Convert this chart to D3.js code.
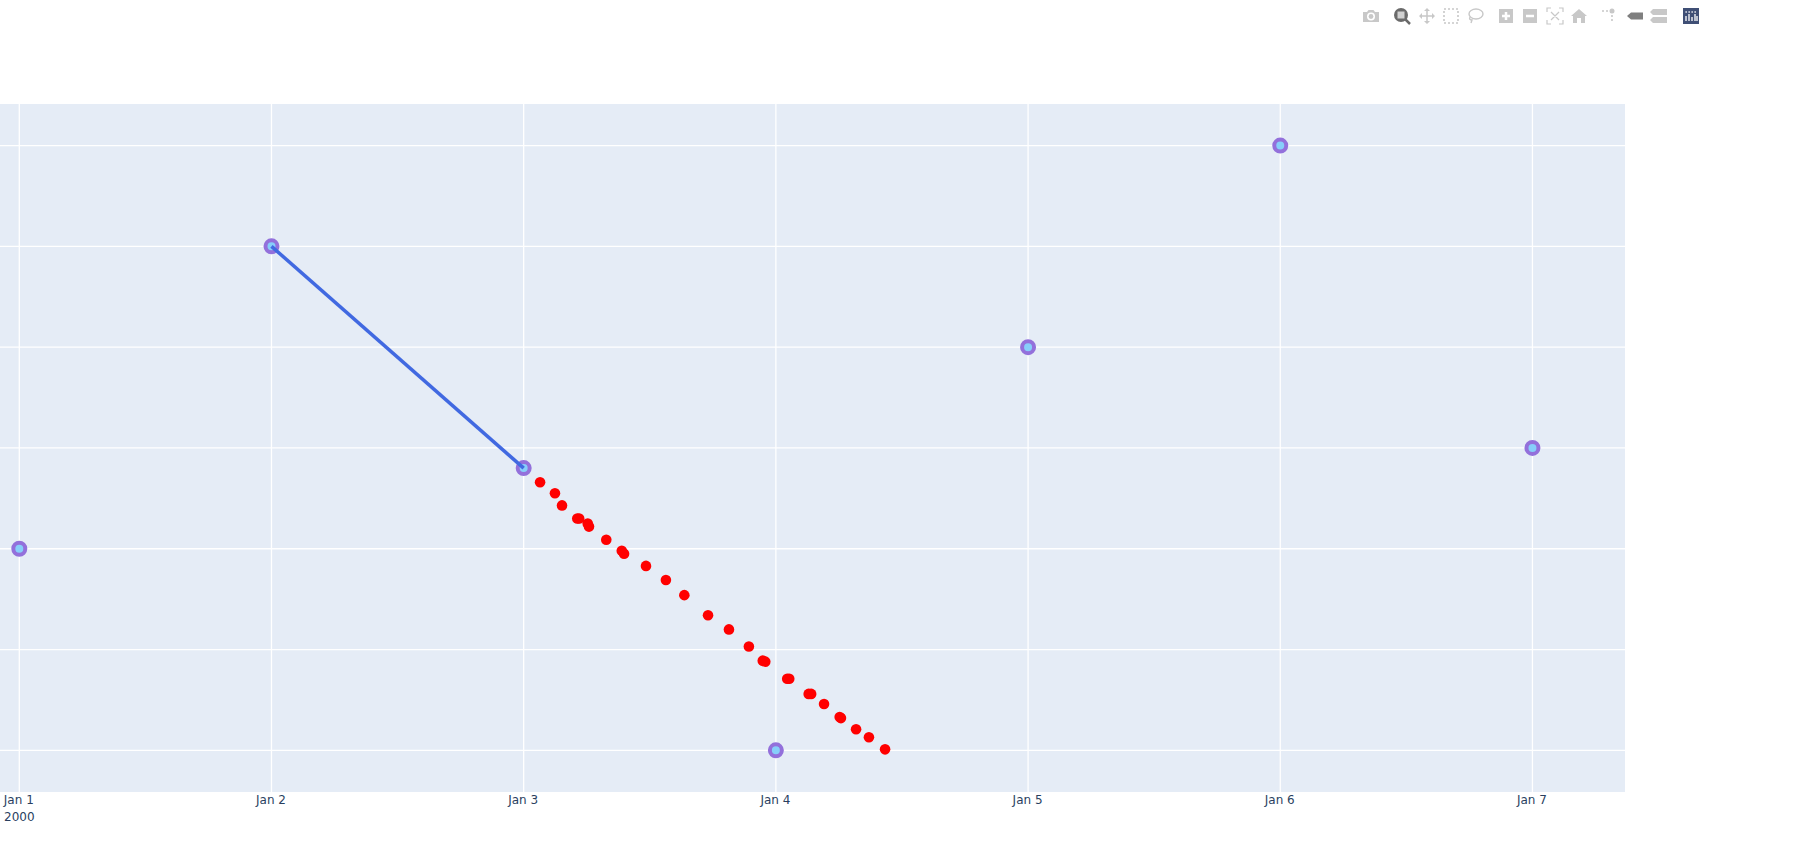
<!DOCTYPE html>
<html>
<head>
<meta charset="utf-8">
<title>chart</title>
<script src="https://cdn.jsdelivr.net/npm/d3@7"></script>
<style>
  html, body { margin: 0; padding: 0; background: #fff; overflow: hidden; }
  text { font-family: "DejaVu Sans", Verdana, sans-serif; }
</style>
</head>
<body>
<div id="plot"></div>
<script>
// purple trace, one point per day
const dayLabels = ['2000-01-01', '2000-01-02', '2000-01-03', '2000-01-04', '2000-01-05', '2000-01-06', '2000-01-07'];
const dayValues = [3, 6, 3.8, 1, 5, 7, 4];

// blue segment, only two days of it are connected
const lineDates = ['2000-01-02', '2000-01-03'];
const lineValues = [6, 3.8];

// red trace, days after Jan 1
const redDays = [2.065, 2.124, 2.152, 2.2125, 2.220, 2.254, 2.259, 2.3275, 2.389, 2.398, 2.485, 2.564, 2.637,
  2.731, 2.814, 2.893, 2.948, 2.958, 3.045, 3.053, 3.130, 3.140, 3.191, 3.253, 3.258, 3.318, 3.369, 3.433];
const redValues = [3.66, 3.55, 3.43, 3.30, 3.30, 3.25, 3.22, 3.09, 2.98, 2.95, 2.83, 2.69, 2.54,
  2.34, 2.20, 2.03, 1.89, 1.88, 1.71, 1.71, 1.56, 1.56, 1.46, 1.33, 1.32, 1.21, 1.13, 1.01];

const yTicks = [1, 2, 3, 4, 5, 6, 7];

const canvas_width = 1808;
const canvas_height = 842;
const plotLeft = 0, plotRight = 1625, plotTop = 104, plotBottom = 792;
const dayMs = 864e5;
const startDate = new Date('2000-01-01T00:00:00Z');
const parseDay = (s) => new Date(s + 'T00:00:00Z');

const xScale = d3.scaleUtc()
  .domain([new Date(+startDate - 0.0765 * dayMs), new Date(+startDate + 6.367 * dayMs)])
  .range([plotLeft, plotRight]);

const yScale = d3.scaleLinear()
  .domain([0.587, 7.412])
  .range([plotBottom, plotTop]);

const svg = d3.select('#plot')
  .append('svg')
  .attr('width', canvas_width)
  .attr('height', canvas_height)
  .style('display', 'block');

svg.append('rect')
  .attr('x', plotLeft)
  .attr('y', plotTop)
  .attr('width', plotRight - plotLeft)
  .attr('height', plotBottom - plotTop)
  .attr('fill', '#e5ecf6');

// grid
svg.append('g').selectAll('line')
  .data(yTicks)
  .enter()
  .append('line')
  .attr('x1', plotLeft)
  .attr('x2', plotRight)
  .attr('y1', (d) => yScale(d))
  .attr('y2', (d) => yScale(d))
  .attr('stroke', '#fff')
  .attr('stroke-width', 1.3);

svg.append('g').selectAll('line')
  .data(dayLabels)
  .enter()
  .append('line')
  .attr('x1', (d) => xScale(parseDay(d)))
  .attr('x2', (d) => xScale(parseDay(d)))
  .attr('y1', plotTop)
  .attr('y2', plotBottom)
  .attr('stroke', '#fff')
  .attr('stroke-width', 1.3);

// x axis, labels only
const xAxis = d3.axisBottom(xScale)
  .tickValues(dayLabels.map(parseDay))
  .tickSize(0)
  .tickPadding(3)
  .tickFormat(d3.utcFormat('%b %-d'));

const xAxisG = svg.append('g')
  .attr('transform', `translate(0,${plotBottom})`)
  .call(xAxis);
xAxisG.select('.domain').remove();
xAxisG.selectAll('text')
  .attr('fill', '#2a3f5f')
  .attr('dx', -1)
  .style('font-size', '12px')
  .style('font-family', '"DejaVu Sans", Verdana, sans-serif');

svg.append('text')
  .attr('x', xScale(startDate))
  .attr('y', plotBottom + 29)
  .attr('text-anchor', 'middle')
  .attr('fill', '#2a3f5f')
  .style('font-size', '12px')
  .text('2000');

// purple markers
svg.append('g').selectAll('circle')
  .data(dayLabels)
  .enter()
  .append('circle')
  .attr('cx', (d) => xScale(parseDay(d)))
  .attr('cy', (d, i) => yScale(dayValues[i]))
  .attr('r', 6)
  .attr('fill', '#87cefa')
  .attr('stroke', '#9370db')
  .attr('stroke-width', 4);

// blue segment
const line = d3.line()
  .x((d) => xScale(parseDay(d)))
  .y((d, i) => yScale(lineValues[i]));

svg.append('path')
  .attr('d', line(lineDates))
  .attr('fill', 'none')
  .attr('stroke', '#4169e1')
  .attr('stroke-width', 3.5);

// red markers
svg.append('g').selectAll('circle')
  .data(redDays)
  .enter()
  .append('circle')
  .attr('cx', (d) => xScale(new Date(+startDate + d * dayMs)))
  .attr('cy', (d, i) => yScale(redValues[i]))
  .attr('r', 5.3)
  .attr('fill', '#ff0000');

// modebar
const light = '#c8c8c8';
const mid = '#7f7f7f';
const dark = '#6a6a6a';
const bar = svg.append('g');

function icon(x) {
  return bar.append('g').attr('transform', `translate(${x - 8},8)`);
}

var g = icon(1371);
g.append('path').attr('fill', light).attr('d', 'M0 4h4l1.5-2h5L12 4h4v10H0z');
g.append('circle').attr('cx', 8).attr('cy', 8.5).attr('r', 4).attr('fill', '#fff');
g.append('circle').attr('cx', 8).attr('cy', 8.5).attr('r', 2.4).attr('fill', light);

g = icon(1402);
g.append('circle').attr('cx', 7).attr('cy', 7).attr('r', 7).attr('fill', dark);
g.append('rect').attr('x', 3.5).attr('y', 3.5).attr('width', 7).attr('height', 7).attr('fill', '#d0d0d0');
g.append('line').attr('x1', 11).attr('y1', 11).attr('x2', 16).attr('y2', 16).attr('stroke', dark).attr('stroke-width', 2.5);

g = icon(1427);
g.append('path').attr('stroke', light).attr('stroke-width', 1.5).attr('fill', 'none').attr('d', 'M8 1V15M1 8H15');
g.append('path').attr('fill', light).attr('d', 'M8 0l3 3H5zM8 16l3-3H5zM0 8l3-3v6zM16 8l-3-3v6z');

g = icon(1451);
g.append('rect').attr('x', 1).attr('y', 1).attr('width', 14).attr('height', 14)
  .attr('fill', 'none').attr('stroke', light).attr('stroke-width', 1.6).attr('stroke-dasharray', '2 2');

g = icon(1475);
g.append('ellipse').attr('cx', 9).attr('cy', 6).attr('rx', 7).attr('ry', 5)
  .attr('fill', 'none').attr('stroke', light).attr('stroke-width', 1.4);
g.append('path').attr('fill', 'none').attr('stroke', light).attr('stroke-width', 1.4).attr('d', 'M3 9c-1 2 0 3 2 3l-1 3');

g = icon(1507);
g.append('rect').attr('width', 14).attr('height', 14).attr('y', 1).attr('fill', light);
g.append('path').attr('stroke', '#fff').attr('stroke-width', 2.5).attr('d', 'M7 4V12M3 8H11');

g = icon(1531);
g.append('rect').attr('width', 14).attr('height', 14).attr('y', 1).attr('fill', light);
g.append('path').attr('stroke', '#fff').attr('stroke-width', 2.5).attr('d', 'M3 8H11');

g = icon(1555);
g.append('path').attr('fill', 'none').attr('stroke', light).attr('stroke-width', 1.2)
  .attr('d', 'M0 4V0H4M12 0H16V4M16 12V16H12M4 16H0V12M4 4L12 12M12 4L4 12');

g = icon(1579);
g.append('path').attr('fill', light).attr('d', 'M8 1L16 8H14V15H10V10H6V15H2V8H0z');

g = icon(1609);
g.append('path').attr('fill', 'none').attr('stroke', light).attr('stroke-width', 1.6).attr('stroke-dasharray', '2 2').attr('d', 'M1 3H11M11 7V15');
g.append('circle').attr('cx', 11).attr('cy', 3).attr('r', 2.5).attr('fill', light);

g = icon(1635);
g.append('path').attr('fill', mid).attr('d', 'M0 8L4 4.5H16V11.5H4z');

g = icon(1659);
g.append('path').attr('fill', light).attr('d', 'M-1 4L2 1H16V7H2zM-1 12L2 9H16V15H2z');

g = icon(1691);
g.append('rect').attr('width', 16).attr('height', 16).attr('fill', '#3f4f75');
g.append('path').attr('stroke', '#fff').attr('stroke-width', 1.3).attr('d', 'M3 13V8M6 13V6M9 13V9M12 13V6M14 13V8');
g.append('path').attr('stroke', '#fff').attr('stroke-width', 1.3).attr('stroke-dasharray', '1.3 1.7').attr('d', 'M2.5 4H14');
</script>
</body>
</html>
